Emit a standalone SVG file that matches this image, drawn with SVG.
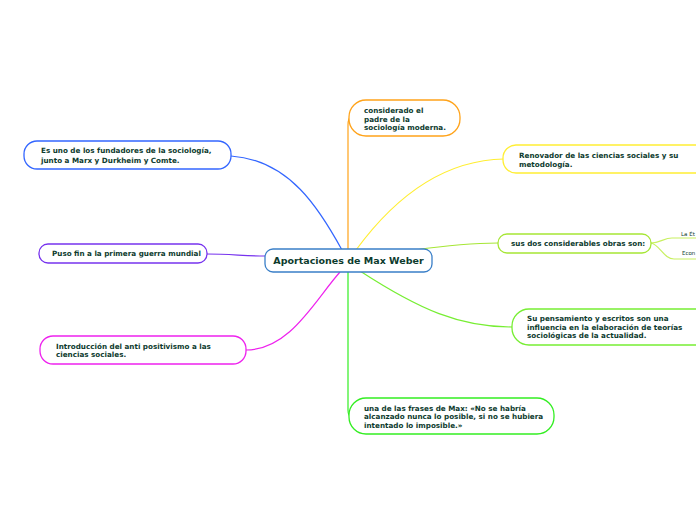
<svg xmlns="http://www.w3.org/2000/svg" width="696" height="520" viewBox="0 0 696 520">
<style>
text{font-family:"DejaVu Sans",Verdana,sans-serif;font-weight:bold;font-size:7.2px;fill:#0d3b2e}
.n{fill:#fff;stroke-width:1.3}
.c path{fill:none;stroke-width:1.2}
.s{font-size:5.5px;font-weight:normal}
</style>
<rect width="696" height="520" fill="#fff"/>
<g class="c">
<path d="M348,250 L348,125 Q348,118 352,115" stroke="#ffa31a"/>
<path d="M356,250 C400,190 450,160 504,159" stroke="#ffee33"/>
<path d="M415,250 C450,245 470,243 498,243" stroke="#a6e635"/>
<path d="M651,243 C660,243 664,238 672,238 L696,238" stroke="#c8f060"/>
<path d="M651,243 C660,245 664,259 674,259 L696,259" stroke="#c8f060"/>
<path d="M360,271 C420,310 460,327 512,327" stroke="#77ee33"/>
<path d="M348,272 L348,410 Q348,416 352,418" stroke="#33ee22"/>
<path d="M231,156 C290,160 320,210 342,250" stroke="#3366ff"/>
<path d="M207,254 C230,254 245,256 265,256" stroke="#7733ee"/>
<path d="M246,350 C290,350 315,300 340,272" stroke="#ee22ee"/>
</g>
<g id="central"><rect class="n" x="265" y="249" width="167" height="23" rx="8" stroke="#3a7fc8"/><text x="348.5" y="264" text-anchor="middle" style="font-size:9.5px">Aportaciones de Max Weber</text></g>
<g id="n1"><rect class="n" x="349" y="100" width="111" height="36" rx="17" stroke="#ffa31a"/><text x="364" y="113">considerado el</text><text x="364" y="121.5">padre de la</text><text x="364" y="130">sociología moderna.</text></g>
<g id="n2"><rect class="n" x="503" y="145" width="210" height="28" rx="13" stroke="#ffee33"/><text x="519" y="158">Renovador de las ciencias sociales y su</text><text x="519" y="166.5">metodología.</text></g>
<g id="n3"><rect class="n" x="498" y="234" width="153" height="19" rx="9" stroke="#a6e635"/><text x="511" y="246">sus dos considerables obras son:</text></g>
<g id="n3a"><text class="s" x="681" y="236">La Ét</text></g>
<g id="n3b"><text class="s" x="682" y="255">Econ</text></g>
<g id="n4"><rect class="n" x="512" y="309" width="200" height="36" rx="17" stroke="#77ee33"/><text x="527" y="321">Su pensamiento y escritos son una</text><text x="527" y="329.5">influencia en la elaboración de teorías</text><text x="527" y="338">sociológicas de la actualidad.</text></g>
<g id="n5"><rect class="n" x="349" y="398" width="205" height="36" rx="17" stroke="#33ee22"/><text x="364" y="410.5">una de las frases de Max: «No se habría</text><text x="364" y="419">alcanzado nunca lo posible, si no se hubiera</text><text x="364" y="427.5">intentado lo imposible.»</text></g>
<g id="n6"><rect class="n" x="24" y="141" width="207" height="28" rx="13" stroke="#3366ff"/><text x="41" y="153">Es uno de los fundadores de la sociología,</text><text x="41" y="162.5">junto a Marx y Durkheim y Comte.</text></g>
<g id="n7"><rect class="n" x="39" y="244" width="168" height="19" rx="9" stroke="#7733ee"/><text x="52" y="256">Puso fin a la primera guerra mundial</text></g>
<g id="n8"><rect class="n" x="40" y="336" width="206" height="28" rx="13" stroke="#ee22ee"/><text x="56" y="348.5">Introducción del anti positivismo a las</text><text x="56" y="357">ciencias sociales.</text></g>
</svg>
